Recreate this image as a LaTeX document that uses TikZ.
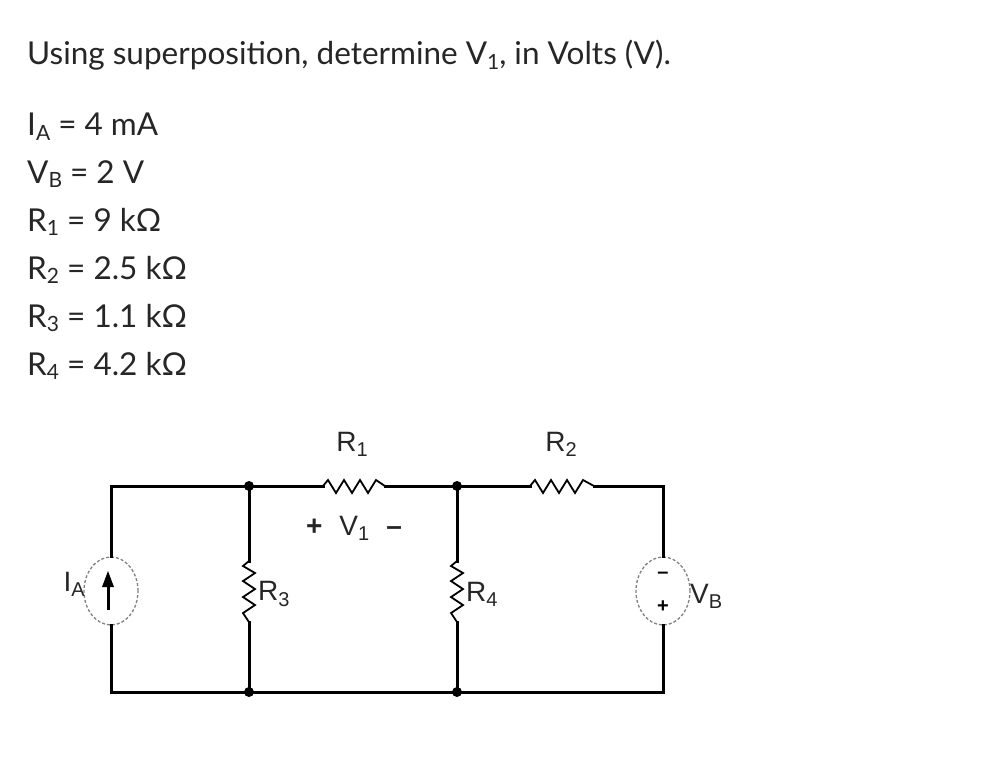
\documentclass[tikz,border=0pt]{standalone}
\usepackage{fontspec}
\usetikzlibrary{shapes.geometric}
\setmainfont{Lato}
\newfontfamily\arialf{Liberation Sans}
\newcommand{\sbs}[1]{\raisebox{-0.3ex}{\fontsize{21}{21}\selectfont #1}}
\newcommand{\csb}[1]{\raisebox{-0.35ex}{\fontsize{20}{20}\selectfont #1}}
\begin{document}
\begin{tikzpicture}[x=1pt,y=-1pt,
  wire/.style={line width=3pt,line cap=rect},
  res/.style={line width=1.8pt},
  dot/.style={circle,fill=black,inner sep=0pt,minimum size=10pt},
  txt/.style={anchor=west,inner sep=0pt,text=black!85,font=\fontsize{31.5}{31.5}\selectfont},
  clab/.style={inner sep=0pt,font=\arialf\fontsize{28}{28}\selectfont,text=black!85},
  src/.style={draw=black!50,dashed,dash pattern=on 3pt off 2pt,line width=1.3pt,ellipse,minimum width=54pt,minimum height=68pt,inner sep=0pt}]
\useasboundingbox (0,0) rectangle (1002,766);
\node[txt] (title) at (27,55) {Using superposition, determine V\sbs{1}, in Volts (V).};
\node[txt] (l1) at (27,127) {I\sbs{A} = 4 mA};
\node[txt] (l2) at (27,174) {V\sbs{B} = 2 V};
\node[txt] (l3) at (27,222) {R\sbs{1} = 9 kΩ};
\node[txt] (l4) at (27,270) {R\sbs{2} = 2.5 kΩ};
\node[txt] (l5) at (27,318) {R\sbs{3} = 1.1 kΩ};
\node[txt] (l6) at (27,366) {R\sbs{4} = 4.2 kΩ};
% nodes
\coordinate (tl) at (111,486); \coordinate (bl) at (111,692);
\node[dot] (t3) at (249,486) {}; \node[dot] (b3) at (249,692) {};
\node[dot] (t4) at (457,486) {}; \node[dot] (b4) at (457,692) {};
\coordinate (tr) at (663,486); \coordinate (br) at (663,692);
\node[src] (IA) at (111,591) {};
\node[src] (VB) at (663,591) {};
% wires
\draw[wire] (IA.north) -- (tl) -- (t3);
\draw[wire] (IA.south) -- (bl) -- (br) -- (VB.south);
\draw[wire] (VB.north) -- (tr) -- (594,486);
\draw[wire] (t3) -- (323,486);
\draw[wire] (385,486) -- (t4) -- (530,486);
\draw[wire] (t3) -- (249,561); \draw[wire] (249,622) -- (b3);
\draw[wire] (t4) -- (457,561); \draw[wire] (457,622) -- (b4);
% resistors
\draw[res] (323,486) -- (328,480) -- (336,493) -- (344,480) -- (352,493) -- (360,480) -- (368,493) -- (376,480) -- (385,486);
\draw[res] (530,486) -- (535,480) -- (543,493) -- (551,480) -- (559,493) -- (567,480) -- (575,493) -- (583,480) -- (594,486);
\draw[res] (249,561) -- (243,566) -- (255,573) -- (243,581) -- (255,589) -- (243,597) -- (255,605) -- (243,613) -- (249,622);
\draw[res] (457,561) -- (451,566) -- (463,573) -- (451,581) -- (463,589) -- (451,597) -- (463,605) -- (451,613) -- (457,622);
% source symbols
\draw[line width=3pt] (108,610) -- (108,582);
\fill (108,571) -- (102,587) -- (114,587) -- cycle;
\node[font=\arialf\bfseries\fontsize{20}{20}\selectfont] (mn) at (663,575) {–};
\node[font=\arialf\bfseries\fontsize{20}{20}\selectfont] (pl) at (663,607) {+};
% labels
\node[clab] (R1) at (352,444) {R\csb{1}};
\node[clab] (R2) at (561,444) {R\csb{2}};
\node[clab] (V1) at (354,528) {\textbf{+}\,\, V\csb{1} \,\,\textbf{–}};
\node[clab,anchor=west] (R3) at (258,594) {R\csb{3}};
\node[clab,anchor=west] (R4) at (466,594) {R\csb{4}};
\node[clab,anchor=east] (IAl) at (85,584) {I\csb{A}};
\node[clab,anchor=west] (VBl) at (690,596) {V\csb{B}};
\end{tikzpicture}
\end{document}
